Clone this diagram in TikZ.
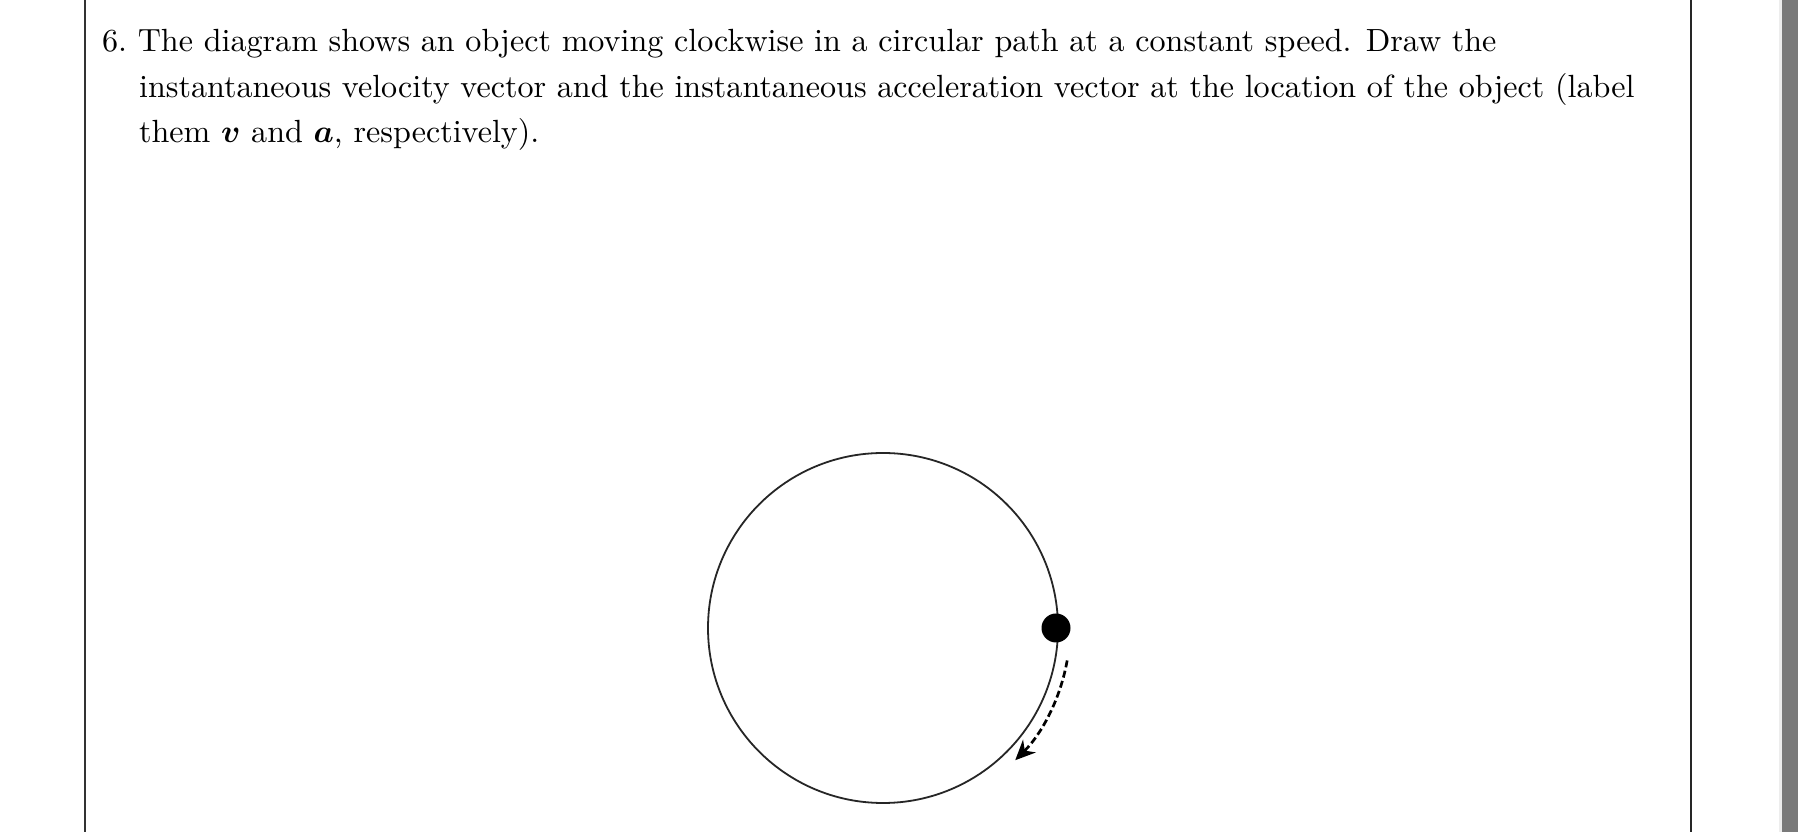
\documentclass[tikz,border=0pt]{standalone}
\usepackage{amsmath,amssymb,bm}
\usetikzlibrary{arrows.meta}
\tikzset{
  qtext/.style={anchor=base west, inner sep=0pt, scale=3.21, font=\fontsize{10}{12}\selectfont},
  pathline/.style={line width=1.8pt, black!85},
  motion/.style={line width=2.7pt, dash pattern=on 7pt off 3.5pt, -{Stealth[length=20pt,width=18pt]}},
}
\begin{document}
\begin{tikzpicture}[x=1pt,y=1pt]
\useasboundingbox (0,0) rectangle (1798,832);
\fill[white] (0,0) rectangle (1798,832);
% page frame lines and shadow
\coordinate (lt) at (85,832); \coordinate (lb) at (85,0);
\coordinate (rt) at (1691,832); \coordinate (rb) at (1691,0);
\draw[line width=1.5pt, black!80] (lt) -- (lb);
\draw[line width=2pt, black!85] (rt) -- (rb);
\fill[black!7] (1779,0) rectangle (1782,832);
\fill[black!52] (1782,0) rectangle (1798,832);
% question text
\node[qtext] (l1) at (101.5,780.3) {6.\ The diagram shows an object moving clockwise in a circular path at a constant speed. Draw the};
\node[qtext] (l2) at (138.5,734.7) {instantaneous velocity vector and the instantaneous acceleration vector at the location of the object (label};
\node[qtext] (l3) at (138.5,689) {them $\boldsymbol{v}$ and $\boldsymbol{a}$, respectively).};
% circle
\coordinate (c) at (883,204);
\draw[pathline] (c) circle[radius=175];
\node[circle, fill=black, minimum size=29pt, inner sep=0pt] (obj) at (1056,204) {};
\draw[motion] ([shift={(-10:187)}]c) arc[start angle=-10, end angle=-45, radius=187];
\end{tikzpicture}
\end{document}
